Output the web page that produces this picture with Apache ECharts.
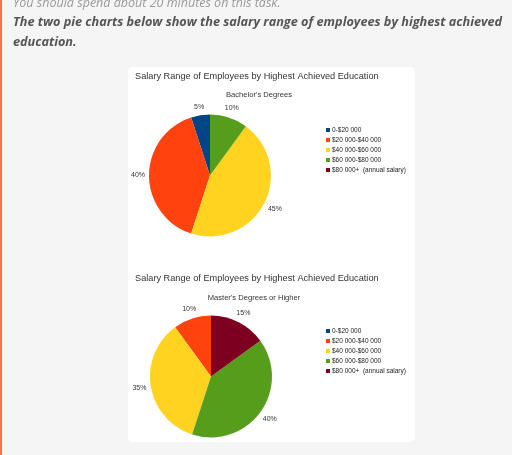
<!DOCTYPE html>
<html>
<head>
<meta charset="utf-8">
<script src="https://cdn.jsdelivr.net/npm/echarts@6/dist/echarts.min.js"></script>
<style>
  html, body { margin: 0; padding: 0; background: #f5f5f5; }
  #main { width: 512px; height: 455px; }
</style>
</head>
<body>
<div id="main"></div>
<script>
// salary bands (legend order)
var bands = ['0-$20 000', '$20 000-$40 000', '$40 000-$60 000', '$60 000-$80 000', '$80 000+  (annual salary)'];
var bandColors = ['#004586', '#ff420e', '#ffd320', '#579d1c', '#7e0021'];

// percentages per band
var bachelorValues = [5, 40, 45, 10, 0];
var masterValues = [0, 10, 35, 40, 15];

var chartTitle = 'Salary Range of Employees by Highest Achieved Education';
var bachelorTitle = "Bachelor's Degrees";
var masterTitle = "Master's Degrees or Higher";

function toData(values) {
  var out = [];
  for (let i = 0; i < bands.length; i++) {
    out.push({ name: bands[i], value: values[i] });
  }
  return out;
}

// push the label box out along the slice direction so it sits centred off the rim
function rimLabel(params) {
  var pts = params.labelLinePoints;
  if (!pts || pts.length < 2) return {};
  var dx = pts[1][0] - pts[0][0];
  var dy = pts[1][1] - pts[0][1];
  var len = Math.sqrt(dx * dx + dy * dy) || 1;
  dx /= len; dy /= len;
  var w = params.labelRect.width, h = params.labelRect.height;
  var push = Math.abs(dx) * w / 2 + Math.abs(dy) * h / 2;
  return {
    x: pts[1][0] + dx * push,
    y: pts[1][1] + dy * push,
    align: 'center',
    verticalAlign: 'middle'
  };
}

function pieSeries(values, center) {
  return {
    type: 'pie',
    center: center,
    radius: 61,
    startAngle: 90,
    clockwise: false,
    silent: true,
    avoidLabelOverlap: false,
    label: {
      show: true,
      position: 'outside',
      formatter: '{c}%',
      fontSize: 7,
      color: '#333',
      fontFamily: 'Liberation Sans',
      distanceToLabelLine: 0
    },
    labelLine: { show: true, length: 4, length2: 0, lineStyle: { width: 0, opacity: 0 } },
    labelLayout: rimLabel,
    itemStyle: { borderWidth: 0 },
    data: toData(values).filter(function (d) { return d.value > 0; })
  };
}

function legendAt(top) {
  return {
    orient: 'vertical',
    left: 321,
    top: top,
    data: bands,
    icon: 'rect',
    itemWidth: 4,
    itemHeight: 4,
    itemGap: 2,
    selectedMode: false,
    textStyle: { fontSize: 6.5, color: '#222', fontFamily: 'Liberation Sans', lineHeight: 8, padding: [0, 0, 0, -3] }
  };
}

var chart = echarts.init(document.getElementById('main'));

var headFont = { fontSize: 12.7, fontStyle: 'italic', fontWeight: 'bold', fontFamily: 'Open Sans', fill: '#555' };

var option = {
  backgroundColor: '#f5f5f5',
  animation: false,
  color: bandColors,
  graphic: [
    { type: 'rect', shape: { x: 0, y: 0, width: 2, height: 455 }, style: { fill: '#ff7043' } },
    { type: 'rect', shape: { x: 128, y: 67, width: 287, height: 375, r: 5 }, style: { fill: '#fff' } },
    { type: 'text', left: 13, top: -3, style: { text: 'You should spend about 20 minutes on this task.', fontSize: 12.5, fontStyle: 'italic', fontFamily: 'Open Sans', fill: '#9a9a9a' } },
    { type: 'text', left: 13, top: 16, style: Object.assign({ text: 'The two pie charts below show the salary range of employees by highest achieved' }, headFont) },
    { type: 'text', left: 13, top: 36, style: Object.assign({ text: 'education.' }, headFont) }
  ],
  title: [
    { text: chartTitle, left: 130, top: 67, textStyle: { fontSize: 9.2, fontWeight: 'normal', color: '#333', fontFamily: 'Liberation Sans' } },
    { text: bachelorTitle, left: 254, top: 86, textAlign: 'center', textStyle: { fontSize: 7.6, fontWeight: 'normal', color: '#333', fontFamily: 'Liberation Sans' } },
    { text: chartTitle, left: 130, top: 269, textStyle: { fontSize: 9.2, fontWeight: 'normal', color: '#333', fontFamily: 'Liberation Sans' } },
    { text: masterTitle, left: 249, top: 289, textAlign: 'center', textStyle: { fontSize: 7.6, fontWeight: 'normal', color: '#333', fontFamily: 'Liberation Sans' } }
  ],
  legend: [legendAt(121), legendAt(322)],
  series: [
    pieSeries(bachelorValues, [210, 175.5]),
    pieSeries(masterValues, [211, 376.5])
  ]
};

chart.setOption(option);
window.onresize = chart.resize;
</script>
</body>
</html>
